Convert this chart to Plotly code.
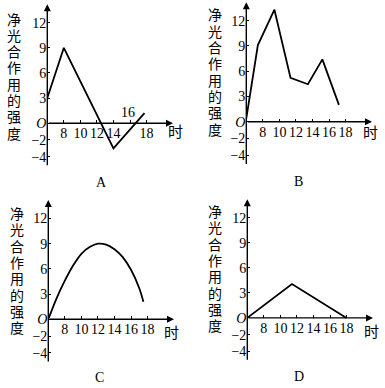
import plotly.graph_objects as go

# ---------------- data ----------------
hours_A = [6, 8, 14, 17.75]
values_A = [3, 9, -3, 1.2]

hours_B = [6, 7.4, 9.4, 11.35, 13.45, 15.2, 17.2]
values_B = [0.4, 9.1, 13.3, 5.2, 4.45, 7.4, 2.0]

hours_C = [6.0, 7.0, 8.0, 9.0, 10.0, 11.0, 12.0, 13.0, 14.0, 15.0, 16.0, 17.0, 17.5]
values_C = [0.0, 2.5, 4.6, 6.4, 7.8, 8.6, 9.0, 8.9, 8.35, 7.4, 5.9, 3.7, 2.1]

hours_D = [6, 11.4, 18]
values_D = [0, 4.05, 0]

x_tickvals = [8, 10, 12, 14, 16, 18]
x_ticktext = ["8", "10", "12", "14", "16", "18"]
x_ticktext_A = ["8", "10", "12", "14", "", "18"]
y_tickvals = [12, 9, 6, 3, 0, -2, -4]
y_ticktext = ["12", "9", "6", "3", "<i>O</i>", "\u22122", "\u22124"]
y_title_chars = ["净", "光", "合", "作", "用", "的", "强", "度"]
x_unit = "时"
panel_labels = ["A", "B", "C", "D"]

W, H = 385, 388
XMIN, XMAX = 6, 21.3
YMIN, YMAX = -5.2, 14.2
PXH = 8.27  # px per hour

panels = [
    dict(ox=47.3, oy=123.2, sy=8.38, hours=hours_A, vals=values_A, shape="linear",
         ttext=x_ticktext_A, title_x=13.5, title_y0=20, unit=(175, 132), lab=(101.7, 182.5)),
    dict(ox=246.3, oy=121.7, sy=8.42, hours=hours_B, vals=values_B, shape="linear",
         ttext=x_ticktext, title_x=214.5, title_y0=16, unit=(370, 133.3), lab=(298.7, 181.7)),
    dict(ox=48.3, oy=319.3, sy=8.4, hours=hours_C, vals=values_C, shape="spline",
         ttext=x_ticktext, title_x=16.7, title_y0=214.5, unit=(171.7, 332.7), lab=(100, 377.5)),
    dict(ox=247.3, oy=317.9, sy=8.35, hours=hours_D, vals=values_D, shape="linear",
         ttext=x_ticktext, title_x=215, title_y0=212.5, unit=(371, 331.7), lab=(299.3, 376.7)),
]

fig = go.Figure()
annotations = []
serif = "Liberation Serif, Times New Roman, serif"
cjk = "Liberation Serif, Noto Sans CJK SC"

for i, p in enumerate(panels):
    n = "" if i == 0 else str(i + 1)
    xa, ya = "x" + n, "y" + n
    left = p["ox"]
    right = left + (XMAX - XMIN) * PXH
    top = p["oy"] - YMAX * p["sy"]
    bottom = p["oy"] - YMIN * p["sy"]
    xdom = [left / W, right / W]
    ydom = [1 - bottom / H, 1 - top / H]
    xpos = ydom[0] + (0 - YMIN) / (YMAX - YMIN) * (ydom[1] - ydom[0])

    fig.add_trace(go.Scatter(x=p["hours"], y=p["vals"], mode="lines",
                             line=dict(color="black", width=1.8, shape=p["shape"], smoothing=0.9),
                             xaxis=xa, yaxis=ya, showlegend=False, hoverinfo="skip"))

    fig.layout["xaxis" + n] = dict(domain=xdom, range=[XMIN, XMAX], anchor="free", position=xpos,
                                   tickvals=x_tickvals, ticktext=p["ttext"], ticks="inside",
                                   ticklen=3, tickwidth=1.3, tickcolor="black",
                                   showgrid=False, zeroline=False, showline=False,
                                   tickfont=dict(family=serif, size=14, color="black"),
                                   fixedrange=True)
    fig.layout["yaxis" + n] = dict(domain=ydom, range=[YMIN, YMAX], anchor=xa,
                                   tickvals=y_tickvals, ticktext=y_ticktext, ticks="inside",
                                   ticklen=3, tickwidth=1.3, tickcolor="black",
                                   showgrid=False, zeroline=False, showline=False,
                                   tickfont=dict(family=serif, size=14, color="black"),
                                   fixedrange=True)

    annotations.append(dict(x=XMAX - 0.1, y=0, ax=XMIN, ay=0, xref=xa, yref=ya, axref=xa, ayref=ya,
                            text="", showarrow=True, arrowhead=2, arrowsize=1, arrowwidth=1.4,
                            arrowcolor="black", standoff=0, startstandoff=0))
    annotations.append(dict(x=XMIN, y=YMAX, ax=XMIN, ay=YMIN, xref=xa, yref=ya, axref=xa, ayref=ya,
                            text="", showarrow=True, arrowhead=2, arrowsize=1, arrowwidth=1.4,
                            arrowcolor="black", standoff=0, startstandoff=0))

    for k, ch in enumerate(y_title_chars):
        annotations.append(dict(x=p["title_x"] / W, y=1 - (p["title_y0"] + k * 16.3) / H,
                                xref="paper", yref="paper", text=ch, showarrow=False,
                                xanchor="center", yanchor="middle", borderpad=0,
                                font=dict(family=cjk, size=14, color="black")))
    annotations.append(dict(x=p["unit"][0] / W, y=1 - p["unit"][1] / H, xref="paper", yref="paper",
                            text=x_unit, showarrow=False, xanchor="center", yanchor="middle",
                            font=dict(family=cjk, size=15, color="black")))
    annotations.append(dict(x=p["lab"][0] / W, y=1 - p["lab"][1] / H, xref="paper", yref="paper",
                            text=panel_labels[i], showarrow=False, xanchor="center", yanchor="middle",
                            font=dict(family=serif, size=14, color="black")))

annotations.append(dict(x=15.8, y=1.25, xref="x", yref="y", text="16", showarrow=False,
                        xanchor="center", yanchor="middle",
                        font=dict(family=serif, size=14, color="black")))

fig.update_layout(width=W, height=H, margin=dict(l=0, r=0, t=0, b=0),
                  paper_bgcolor="white", plot_bgcolor="white",
                  annotations=annotations, showlegend=False)

fig.write_html("out.html", config={"displayModeBar": False},
               post_script="document.body.style.margin='0px';")
